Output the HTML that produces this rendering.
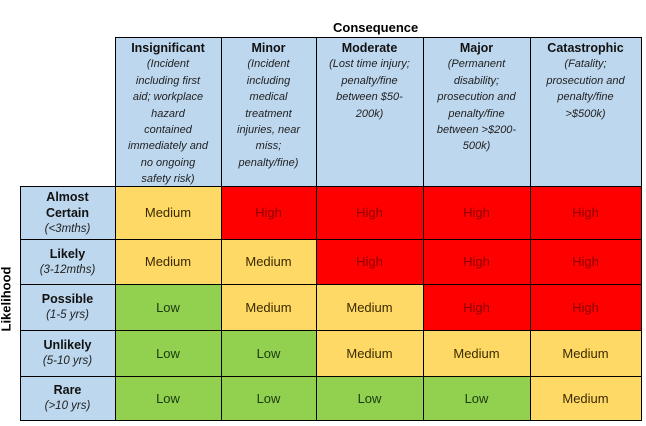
<!DOCTYPE html>
<html><head><style>
body{margin:0;width:646px;height:426px;background:#fff;position:relative;font-family:"Liberation Sans",sans-serif;overflow:hidden}
.c{position:absolute;box-sizing:border-box;display:flex;align-items:center;justify-content:center;text-align:center;font-size:13px}
.h{background:#BDD7EE;flex-direction:column;justify-content:flex-start;align-items:center;padding-top:2px;font-size:11px;line-height:16.4px;font-style:italic;color:#222;white-space:nowrap}
.h b{font-style:normal;font-size:12.5px;color:#111;display:block;width:100%}
.r{background:#BDD7EE;flex-direction:column;font-size:11.5px;font-style:italic;line-height:16px;color:#222}
.r b{font-style:normal;font-size:12.5px;color:#111}
.M{background:#FFD966;color:#3a2a00}.H{background:#FF0000;color:#8a0000}.L{background:#92D050;color:#1a3a10}
.grid{position:absolute;background:#000}
</style></head><body>
<div style="position:absolute;left:333px;top:20px;font-weight:bold;font-size:13px">Consequence</div>
<div style="position:absolute;left:-24px;top:294px;width:60px;transform:rotate(-90deg);font-weight:bold;font-size:13px;text-align:center">Likelihood</div>

<div class="c h" style="left:115px;top:38px;width:106px;height:148px"><b>Insignificant</b><span>(Incident<br>including first<br>aid; workplace<br>hazard<br>contained<br>immediately and<br>no ongoing<br>safety risk)</span></div>
<div class="c h" style="left:221px;top:38px;width:95px;height:148px"><b>Minor</b><span>(Incident<br>including<br>medical<br>treatment<br>injuries, near<br>miss;<br>penalty/fine)</span></div>
<div class="c h" style="left:316px;top:38px;width:107px;height:148px"><b>Moderate</b><span>(Lost time injury;<br>penalty/fine<br>between $50-<br>200k)</span></div>
<div class="c h" style="left:423px;top:38px;width:107px;height:148px"><b>Major</b><span>(Permanent<br>disability;<br>prosecution and<br>penalty/fine<br>between &gt;$200-<br>500k)</span></div>
<div class="c h" style="left:530px;top:38px;width:111px;height:148px"><b>Catastrophic</b><span>(Fatality;<br>prosecution and<br>penalty/fine<br>&gt;$500k)</span></div>

<div class="c r" style="left:20px;top:186px;width:95px;height:53px"><b>Almost<br>Certain</b>(&lt;3mths)</div>
<div class="c r" style="left:20px;top:239px;width:95px;height:45px"><b>Likely</b>(3-12mths)</div>
<div class="c r" style="left:20px;top:284px;width:95px;height:46px"><b>Possible</b>(1-5 yrs)</div>
<div class="c r" style="left:20px;top:330px;width:95px;height:46px"><b>Unlikely</b>(5-10 yrs)</div>
<div class="c r" style="left:20px;top:376px;width:95px;height:44px"><b>Rare</b>(&gt;10 yrs)</div>

<div class="c M" style="left:115px;top:186px;width:106px;height:53px">Medium</div>
<div class="c H" style="left:221px;top:186px;width:95px;height:53px">High</div>
<div class="c H" style="left:316px;top:186px;width:107px;height:53px">High</div>
<div class="c H" style="left:423px;top:186px;width:107px;height:53px">High</div>
<div class="c H" style="left:530px;top:186px;width:111px;height:53px">High</div>

<div class="c M" style="left:115px;top:239px;width:106px;height:45px">Medium</div>
<div class="c M" style="left:221px;top:239px;width:95px;height:45px">Medium</div>
<div class="c H" style="left:316px;top:239px;width:107px;height:45px">High</div>
<div class="c H" style="left:423px;top:239px;width:107px;height:45px">High</div>
<div class="c H" style="left:530px;top:239px;width:111px;height:45px">High</div>

<div class="c L" style="left:115px;top:284px;width:106px;height:46px">Low</div>
<div class="c M" style="left:221px;top:284px;width:95px;height:46px">Medium</div>
<div class="c M" style="left:316px;top:284px;width:107px;height:46px">Medium</div>
<div class="c H" style="left:423px;top:284px;width:107px;height:46px">High</div>
<div class="c H" style="left:530px;top:284px;width:111px;height:46px">High</div>

<div class="c L" style="left:115px;top:330px;width:106px;height:46px">Low</div>
<div class="c L" style="left:221px;top:330px;width:95px;height:46px">Low</div>
<div class="c M" style="left:316px;top:330px;width:107px;height:46px">Medium</div>
<div class="c M" style="left:423px;top:330px;width:107px;height:46px">Medium</div>
<div class="c M" style="left:530px;top:330px;width:111px;height:46px">Medium</div>

<div class="c L" style="left:115px;top:376px;width:106px;height:44px">Low</div>
<div class="c L" style="left:221px;top:376px;width:95px;height:44px">Low</div>
<div class="c L" style="left:316px;top:376px;width:107px;height:44px">Low</div>
<div class="c L" style="left:423px;top:376px;width:107px;height:44px">Low</div>
<div class="c M" style="left:530px;top:376px;width:111px;height:44px">Medium</div>

<div class="grid" style="left:115px;top:37px;width:527px;height:1px"></div>
<div class="grid" style="left:20px;top:186px;width:622px;height:1px"></div>
<div class="grid" style="left:20px;top:239px;width:622px;height:1px"></div>
<div class="grid" style="left:20px;top:284px;width:622px;height:1px"></div>
<div class="grid" style="left:20px;top:330px;width:622px;height:1px"></div>
<div class="grid" style="left:20px;top:376px;width:622px;height:1px"></div>
<div class="grid" style="left:20px;top:420px;width:622px;height:1px"></div>
<div class="grid" style="left:20px;top:186px;width:1px;height:235px"></div>
<div class="grid" style="left:115px;top:37px;width:1px;height:384px"></div>
<div class="grid" style="left:221px;top:37px;width:1px;height:384px"></div>
<div class="grid" style="left:316px;top:37px;width:1px;height:384px"></div>
<div class="grid" style="left:423px;top:37px;width:1px;height:384px"></div>
<div class="grid" style="left:530px;top:37px;width:1px;height:384px"></div>
<div class="grid" style="left:641px;top:37px;width:1px;height:384px"></div>
</body></html>
